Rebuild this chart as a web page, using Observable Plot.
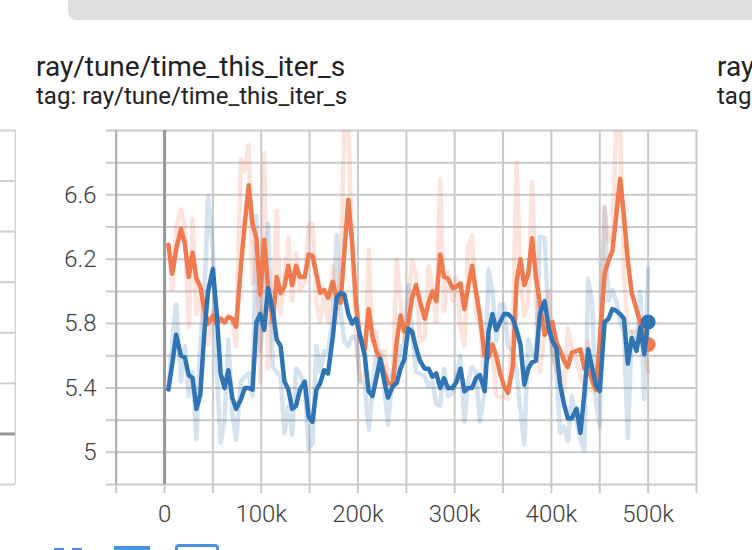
<!DOCTYPE html>
<html><head><meta charset="utf-8">
<script src="https://cdn.jsdelivr.net/npm/d3@7"></script>
<script src="https://cdn.jsdelivr.net/npm/@observablehq/plot@0.6"></script>
<style>
html,body{margin:0;padding:0;background:#fff;overflow:hidden}
#page{position:relative;width:752px;height:550px;overflow:hidden;font-family:Roboto,sans-serif;color:#212121}
#page>div{position:absolute;white-space:nowrap}
#page svg{position:absolute;left:0;top:0;background:transparent}
.t{font-size:28px;line-height:28px}
.s{font-size:24px;line-height:24px}
</style></head><body><div id="page">
<div style="left:68px;top:0;width:700px;height:20px;background:#dfdfdf;border-bottom-left-radius:8px"></div>
<div class="t" style="left:36px;top:53px">ray/tune/time_this_iter_s</div>
<div class="s" style="left:36px;top:84px">tag: ray/tune/time_this_iter_s</div>
<div class="t" style="left:717px;top:53px">ray</div>
<div class="s" style="left:717px;top:84px">tag</div>
<div style="left:54px;top:548px;width:10px;height:4px;background:#4a90e2"></div>
<div style="left:72px;top:548px;width:10px;height:4px;background:#4a90e2"></div>
<div style="left:114px;top:546px;width:36px;height:6px;background:#4a90e2"></div>
<div style="left:175px;top:544px;width:38px;height:12px;border:3px solid #4a90e2;border-radius:4px"></div>
</div>
<script>
const steps = [4,8,12,17,21,25,29,33,37,41,45,50,54,58,62,66,70,74,79,83,87,91,95,99,103,107,112,116,120,124,128,132,136,140,145,149,153,157,161,165,169,174,178,182,186,190,194,198,202,207,211,215,219,223,227,231,236,240,244,248,252,256,260,264,269,273,277,281,285,289,293,298,302,306,310,314,318,322,326,331,335,339,343,347,351,355,360,364,368,372,376,380,384,388,393,397,401,405,409,413,417,421,426,430,434,438,442,446,450,455,459,463,467,471,475,479,483,488,492,496,500];
const blueSmooth = [5.39,5.55,5.73,5.60,5.59,5.48,5.46,5.27,5.36,5.73,6.00,6.14,5.86,5.49,5.40,5.51,5.34,5.27,5.33,5.40,5.40,5.39,5.81,5.86,5.76,6.02,5.88,5.70,5.66,5.44,5.39,5.27,5.29,5.39,5.44,5.22,5.19,5.39,5.43,5.51,5.49,5.72,5.96,5.99,5.98,5.86,5.80,5.83,5.73,5.60,5.38,5.35,5.46,5.58,5.45,5.34,5.41,5.43,5.52,5.58,5.77,5.75,5.65,5.57,5.52,5.52,5.47,5.49,5.40,5.46,5.40,5.40,5.44,5.52,5.38,5.40,5.40,5.46,5.48,5.38,5.75,5.86,5.76,5.81,5.86,5.86,5.83,5.76,5.67,5.42,5.52,5.56,5.57,5.86,5.94,5.78,5.69,5.65,5.42,5.30,5.21,5.21,5.27,5.12,5.36,5.64,5.53,5.42,5.38,5.81,5.83,5.89,5.88,5.86,5.83,5.55,5.71,5.63,5.78,5.61,5.81];
const orangeSmooth = [6.29,6.11,6.26,6.39,6.30,6.09,6.24,6.08,6.03,5.89,5.80,5.85,5.80,5.83,5.81,5.84,5.83,5.78,6.16,6.42,6.66,6.42,6.33,5.98,6.32,6.03,5.81,6.09,5.99,6.03,6.16,6.04,6.16,6.09,6.09,6.23,6.22,6.11,5.99,6.01,5.96,6.06,5.96,5.93,6.25,6.57,6.30,5.92,5.72,5.64,5.89,5.72,5.63,5.58,5.50,5.43,5.42,5.69,5.85,5.75,5.81,5.96,6.04,5.94,5.83,5.93,6.00,5.94,6.23,6.09,6.08,6.02,6.03,6.05,5.89,6.03,6.16,6.00,5.85,5.60,5.59,5.67,5.60,5.49,5.41,5.37,5.53,6.06,6.20,6.04,6.11,6.33,6.09,5.93,5.73,5.78,5.81,5.69,5.63,5.57,5.53,5.62,5.63,5.64,5.52,5.53,5.45,5.39,5.69,6.11,6.19,6.25,6.47,6.70,6.47,6.19,5.99,5.89,5.80,5.73,5.67];
const blueRaw = [5.39,5.69,5.92,5.44,5.66,5.35,5.50,5.08,5.69,5.94,6.59,6.27,5.50,5.06,5.19,5.70,5.25,5.08,5.44,5.47,5.49,5.35,6.47,5.63,5.94,6.42,5.53,5.50,5.47,5.12,5.29,5.11,5.52,5.49,5.41,5.02,5.06,5.66,5.50,5.63,5.62,5.85,6.35,5.88,5.69,5.66,5.72,5.72,5.44,5.43,5.14,5.38,5.63,5.63,5.41,5.17,5.50,5.44,5.66,5.63,6.04,5.75,5.50,5.49,5.47,5.41,5.44,5.30,5.29,5.52,5.35,5.37,5.47,5.60,5.19,5.44,5.53,5.50,5.19,5.38,6.14,6.00,5.69,5.92,5.92,5.66,5.63,5.50,5.25,5.05,5.70,5.63,5.57,6.34,6.33,5.81,5.63,5.53,5.12,5.16,5.07,5.35,5.19,5.08,5.01,6.08,5.94,5.32,5.16,6.52,5.94,6.01,5.94,5.81,5.75,5.09,5.75,5.63,6.00,5.33,6.14];
const orangeRaw = [6.29,6.01,6.40,6.51,6.40,5.78,6.45,5.86,5.97,5.75,5.67,5.88,5.81,5.84,5.80,5.85,5.83,5.66,6.82,6.75,6.91,6.05,6.31,5.44,6.86,5.52,5.94,6.50,5.86,6.06,6.33,5.94,6.24,6.01,6.06,6.42,6.42,5.94,5.81,6.00,5.81,6.16,5.81,6.12,7.05,7.05,6.25,5.75,5.45,5.47,6.26,5.69,5.75,5.53,5.63,5.47,5.47,6.20,5.94,5.69,5.94,6.19,6.11,5.69,5.72,6.16,6.03,5.81,6.70,5.88,6.12,5.94,6.09,5.78,5.66,6.28,6.35,5.85,5.81,5.41,5.75,5.63,5.35,5.34,5.35,5.33,5.75,6.80,6.06,5.85,5.94,6.68,6.00,5.50,5.75,6.00,5.63,5.50,5.50,5.38,5.77,5.66,5.57,5.47,5.41,5.69,5.38,5.38,5.66,6.53,6.31,6.31,7.05,7.03,6.12,5.75,5.75,5.75,5.78,5.69,5.50];
const yTicks = [5,5.4,5.8,6.2,6.6];
const yGrid = [4.8,5,5.2,5.4,5.6,5.8,6,6.2,6.4,6.6,6.8,7];
const xGrid = [-50,0,50,100,150,200,250,300,350,400,450,500,550];
const xLabels = [0,100,200,300,400,500];
const neighbourGrid = [0,1,2,3,4,5,6,7];
const neighbourTick = [1];

const GRID = "#c9c9c9", BLUE = "#2f74b5", ORANGE = "#ef7a4e", INK = "#3c3c3c";
const rows = a => a.slice(0, Math.min(a.length, steps.length)).map((v,i)=>({x:steps[i],v}));
const lastB = blueSmooth.at(-1), lastO = orangeSmooth.at(-1), lastX = steps.at(-1);

const chart = Plot.plot({
  width:752, height:550,
  marginLeft:106, marginRight:56, marginTop:130, marginBottom:66,
  style:{background:"transparent",fontFamily:"Roboto,sans-serif",fontSize:"24px",fontWeight:300,color:INK},
  x:{domain:[-60,550]},
  y:{domain:[4.8,7]},
  marks:[
    Plot.ruleY(yGrid,{stroke:GRID,strokeWidth:2}),
    Plot.ruleX(xGrid,{stroke:GRID,strokeWidth:2,y1:4.8,y2:7}),
    Plot.ruleX([-50],{stroke:"#aeaeae",strokeWidth:2,y1:4.8,y2:7}),
    Plot.ruleX([0],{stroke:"#999",strokeWidth:3,y1:4.8,y2:7}),
    Plot.axisX(xGrid,{anchor:"bottom",tickSize:9,tickPadding:11,stroke:GRID,strokeWidth:2,fill:INK,
      tickFormat:d=>xLabels.includes(d)?(d===0?"0":d+"k"):"",label:null}),
    Plot.axisY(yTicks,{anchor:"left",tickSize:0,tickPadding:10,fill:INK,tickFormat:d=>String(d),label:null}),
    Plot.lineY(rows(blueRaw),{x:"x",y:"v",stroke:BLUE,strokeOpacity:.2,strokeWidth:4.5,clip:true}),
    Plot.lineY(rows(orangeRaw),{x:"x",y:"v",stroke:ORANGE,strokeOpacity:.2,strokeWidth:4.5,clip:true}),
    Plot.lineY(rows(orangeSmooth),{x:"x",y:"v",stroke:ORANGE,strokeWidth:4.5,clip:true}),
    Plot.dot([{x:lastX,v:lastO}],{x:"x",y:"v",r:7.5,fill:ORANGE}),
    Plot.lineY(rows(blueSmooth),{x:"x",y:"v",stroke:BLUE,strokeWidth:4.5,clip:true}),
    Plot.dot([{x:lastX,v:lastB}],{x:"x",y:"v",r:7.5,fill:BLUE})
  ]
});
document.getElementById("page").appendChild(chart);

const side = Plot.plot({
  width:16, height:550, marginLeft:0, marginRight:1, marginTop:130, marginBottom:66,
  style:{background:"transparent"},
  x:{domain:[0,1],axis:null},
  y:{domain:[0,7],axis:null},
  marks:[
    Plot.ruleY(neighbourGrid,{stroke:"#d0d0d0",strokeWidth:2}),
    Plot.ruleY(neighbourTick,{stroke:"#999",strokeWidth:3}),
    Plot.ruleX([1],{stroke:"#d0d0d0",strokeWidth:1.5,y1:0,y2:7})
  ]
});
document.getElementById("page").appendChild(side);
</script></body></html>
